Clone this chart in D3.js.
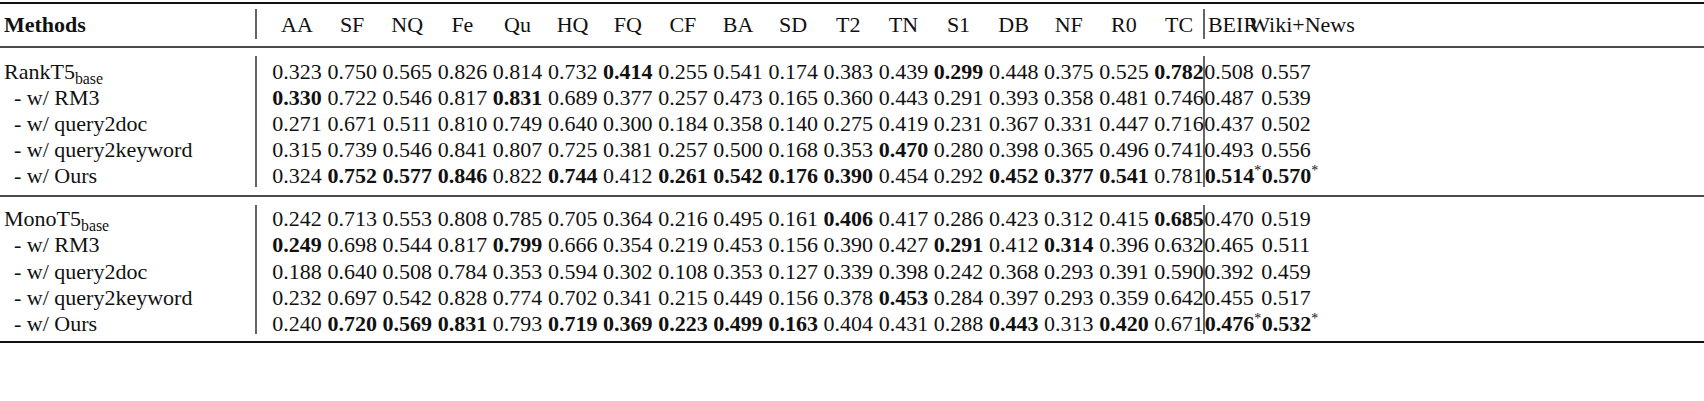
<!DOCTYPE html>
<html><head><meta charset="utf-8">
<script src="https://cdn.jsdelivr.net/npm/d3@7"></script>
<style>body{margin:0;background:#fff}text{font-family:"Liberation Serif","DejaVu Serif",serif;fill:#111}</style>
</head><body><svg id="c" width="1704" height="401"></svg>
<script>
const datasets=["AA","SF","NQ","Fe","Qu","HQ","FQ","CF","BA","SD","T2","TN","S1","DB","NF","R0","TC"];
const avgCols=["BEIR","Wiki+News"];
const methods=["base","- w/ RM3","- w/ query2doc","- w/ query2keyword","- w/ Ours"];
const groups=["RankT5","MonoT5"];
const rankT5=[
[0.323,0.750,0.565,0.826,0.814,0.732,0.414,0.255,0.541,0.174,0.383,0.439,0.299,0.448,0.375,0.525,0.782,0.508,0.557],
[0.330,0.722,0.546,0.817,0.831,0.689,0.377,0.257,0.473,0.165,0.360,0.443,0.291,0.393,0.358,0.481,0.746,0.487,0.539],
[0.271,0.671,0.511,0.810,0.749,0.640,0.300,0.184,0.358,0.140,0.275,0.419,0.231,0.367,0.331,0.447,0.716,0.437,0.502],
[0.315,0.739,0.546,0.841,0.807,0.725,0.381,0.257,0.500,0.168,0.353,0.470,0.280,0.398,0.365,0.496,0.741,0.493,0.556],
[0.324,0.752,0.577,0.846,0.822,0.744,0.412,0.261,0.542,0.176,0.390,0.454,0.292,0.452,0.377,0.541,0.781,0.514,0.570]];
const monoT5=[
[0.242,0.713,0.553,0.808,0.785,0.705,0.364,0.216,0.495,0.161,0.406,0.417,0.286,0.423,0.312,0.415,0.685,0.470,0.519],
[0.249,0.698,0.544,0.817,0.799,0.666,0.354,0.219,0.453,0.156,0.390,0.427,0.291,0.412,0.314,0.396,0.632,0.465,0.511],
[0.188,0.640,0.508,0.784,0.353,0.594,0.302,0.108,0.353,0.127,0.339,0.398,0.242,0.368,0.293,0.391,0.590,0.392,0.459],
[0.232,0.697,0.542,0.828,0.774,0.702,0.341,0.215,0.449,0.156,0.378,0.453,0.284,0.397,0.293,0.359,0.642,0.455,0.517],
[0.240,0.720,0.569,0.831,0.793,0.719,0.369,0.223,0.499,0.163,0.404,0.431,0.288,0.443,0.313,0.420,0.671,0.476,0.532]];
const rankBold=[[6,12,16],[0,4],[],[11],[1,2,3,5,7,8,9,10,13,14,15,17,18]];
const monoBold=[[10,16],[0,4,12,14],[],[11],[1,2,3,5,6,7,8,9,13,15,17,18]];
const starCols=[17,18];

const svg=d3.select("#c");
const x=d3.scalePoint().domain(datasets).range([297,1179]);
const xAvg=d3.scaleOrdinal().domain(avgCols).range([1229,1286]);
const xAvgHead=d3.scaleOrdinal().domain(avgCols).range([1233,1302]);
const colX=i=>i<17?x(datasets[i]):xAvg(avgCols[i-17]);
const rowY=[24,71,97,123,149,175,218,244,271,297,323];
const fs=22;
function line(y1,w){svg.append("line").attr("x1",0).attr("x2",1704).attr("y1",y1).attr("y2",y1).attr("stroke","#111").attr("stroke-width",w);}
line(3,2.2);line(47,1.3);line(196,1.3);line(342,2.2);
[[256,9,39],[256,56,187],[256,205,334],[1204,9,39],[1204,56,187],[1204,205,334]].forEach(v=>svg.append("line").attr("x1",v[0]).attr("x2",v[0]).attr("y1",v[1]).attr("y2",v[2]).attr("stroke","#111").attr("stroke-width",1.3));
svg.append("text").attr("x",4).attr("y",rowY[0]+8).attr("font-size",fs).attr("font-weight","bold").text("Methods");
svg.selectAll("text.h").data(datasets.concat(avgCols)).enter().append("text").attr("class","h")
 .attr("x",(d,i)=>i<17?x(d):xAvgHead(d)).attr("y",rowY[0]+8).attr("text-anchor","middle").attr("font-size",fs).text(d=>d);
[[rankT5,rankBold,1],[monoT5,monoBold,6]].forEach(([data,bold,r0],g)=>{
  data.forEach((row,ri)=>{
    const yy=rowY[r0+ri]+8;
    const lab=svg.append("text").attr("x",4).attr("y",yy).attr("font-size",fs);
    if(ri===0){lab.text(groups[g]);lab.append("tspan").attr("font-size",fs*0.72).attr("dy",5).text("base");}
    else lab.attr("x",14).text(methods[ri]);
    row.forEach((v,ci)=>{
      const t=svg.append("text").attr("x",colX(ci)).attr("y",yy).attr("text-anchor","middle").attr("font-size",fs)
        .attr("font-weight",bold[ri].includes(ci)?"bold":"normal").text(v.toFixed(3));
      if(ri===4&&starCols.includes(ci)){t.attr("x",colX(ci)+4);t.append("tspan").attr("font-size",14).attr("dy",-8).attr("font-weight","normal").text("*");}
    });
  });
});
</script></body></html>
